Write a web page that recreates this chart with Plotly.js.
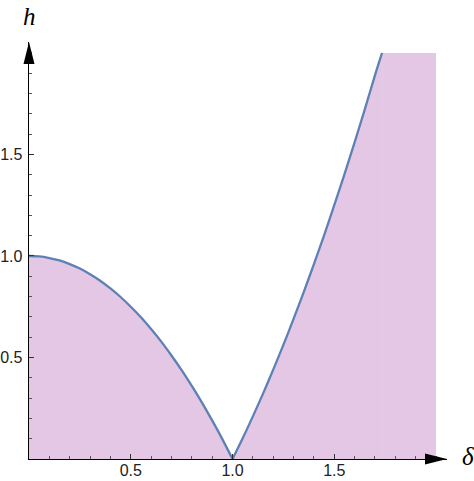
<!DOCTYPE html>
<html>
<head>
<meta charset="utf-8">
<script src="https://cdn.plot.ly/plotly-3.0.1.min.js"></script>
<style>
    html, body { margin: 0; padding: 0; background: #fff; }
    #chart { width: 474px; height: 481px; }
</style>
</head>
<body>
<div id="chart"></div>
<script>
// values
const deltaLeft = [0, 0.05, 0.1, 0.15, 0.2, 0.25, 0.3, 0.35, 0.4, 0.45, 0.5,
    0.55, 0.6, 0.65, 0.7, 0.75, 0.8, 0.85, 0.9, 0.95, 1.0];
const hLeft = [1.000, 0.998, 0.990, 0.978, 0.960, 0.938, 0.910, 0.878, 0.840, 0.798, 0.750,
    0.698, 0.640, 0.578, 0.510, 0.438, 0.360, 0.278, 0.190, 0.098, 0.000];
const deltaRight = [1.0, 1.05, 1.1, 1.15, 1.2, 1.25, 1.3, 1.35, 1.4, 1.45, 1.5,
    1.55, 1.6, 1.65, 1.7, 1.735];
const hRight = [0.000, 0.102, 0.210, 0.322, 0.440, 0.562, 0.690, 0.822, 0.960, 1.102, 1.250,
    1.402, 1.560, 1.722, 1.890, 2.000];
const cornerDelta = [1.735, 2.0];
const cornerH = [2.0, 2.0];
const tickValues = [0.5, 1.0, 1.5];
const tickLabels = ['0.5', '1.0', '1.5'];

const axisEnd = 2.054;
const lineColor = '#5e81b5';
const fillColor = 'rgb(227, 199, 228)';

function fillTrace(x, y, shape) {
    return {
        x: x, y: y,
        mode: 'lines',
        line: {width: 0, shape: shape},
        fill: 'tozeroy',
        fillcolor: fillColor,
        hoverinfo: 'skip',
        showlegend: false
    };
}

function curveTrace(x, y) {
    return {
        x: x, y: y,
        mode: 'lines',
        line: {color: lineColor, width: 2.3, shape: 'spline', smoothing: 0.8},
        showlegend: false
    };
}

window.onload = () => {
    const traces = [
        fillTrace(deltaLeft, hLeft, 'spline'),
        fillTrace(deltaRight, hRight, 'spline'),
        fillTrace(cornerDelta, cornerH, 'linear'),
        curveTrace(deltaLeft, hLeft),
        curveTrace(deltaRight, hRight)
    ];

    const axisCommon = {
        range: [0, axisEnd],
        tickmode: 'array',
        tickvals: tickValues,
        ticktext: tickLabels,
        ticks: 'inside',
        ticklen: 5,
        tickwidth: 1,
        tickcolor: '#333',
        minor: {
            tickmode: 'linear',
            tick0: 0,
            dtick: 0.1,
            ticks: 'inside',
            ticklen: 3,
            tickwidth: 1,
            tickcolor: '#555'
        },
        showline: true,
        linecolor: '#000',
        linewidth: 1.4,
        showgrid: false,
        zeroline: false,
        fixedrange: true,
        tickfont: {family: 'Liberation Sans, Arial, sans-serif', size: 16, color: '#222'}
    };

    // arrowheads at the axis ends, in paper coords so they are not clipped
    const arrowHead = (ax, ay, path) => ({
        type: 'path',
        xref: 'paper', yref: 'paper',
        xsizemode: 'pixel', ysizemode: 'pixel',
        xanchor: ax, yanchor: ay,
        path: path,
        fillcolor: '#000',
        line: {width: 0},
        layer: 'above'
    });

    const labelFont = {family: 'Liberation Serif, DejaVu Serif, serif', size: 25, color: '#000'};

    const layout = {
        width: 474,
        height: 481,
        margin: {l: 29, r: 27, t: 42, b: 22},
        paper_bgcolor: '#fff',
        plot_bgcolor: '#fff',
        xaxis: Object.assign({}, axisCommon, {ticklabelstandoff: -4}),
        yaxis: Object.assign({}, axisCommon, {ticklabelstandoff: 2}),
        shapes: [
            arrowHead(1, 0, 'M0,0 L-22,5.5 L-22,-5.5 Z'),
            arrowHead(0, 1, 'M0,0 L5.5,-22 L-5.5,-22 Z')
        ],
        annotations: [
            {
                xref: 'paper', yref: 'paper', x: 0, y: 1,
                xanchor: 'center', yanchor: 'middle',
                xshift: 0, yshift: 26,
                text: '<i>h</i>', showarrow: false,
                font: labelFont
            },
            {
                xref: 'paper', yref: 'paper', x: 1, y: 0,
                xanchor: 'center', yanchor: 'middle',
                xshift: 21, yshift: 3,
                text: '<i>δ</i>', showarrow: false,
                font: labelFont
            }
        ]
    };

    Plotly.newPlot(document.getElementById('chart'), traces, layout,
        {displayModeBar: false, staticPlot: true});
};
</script>
</body>
</html>
